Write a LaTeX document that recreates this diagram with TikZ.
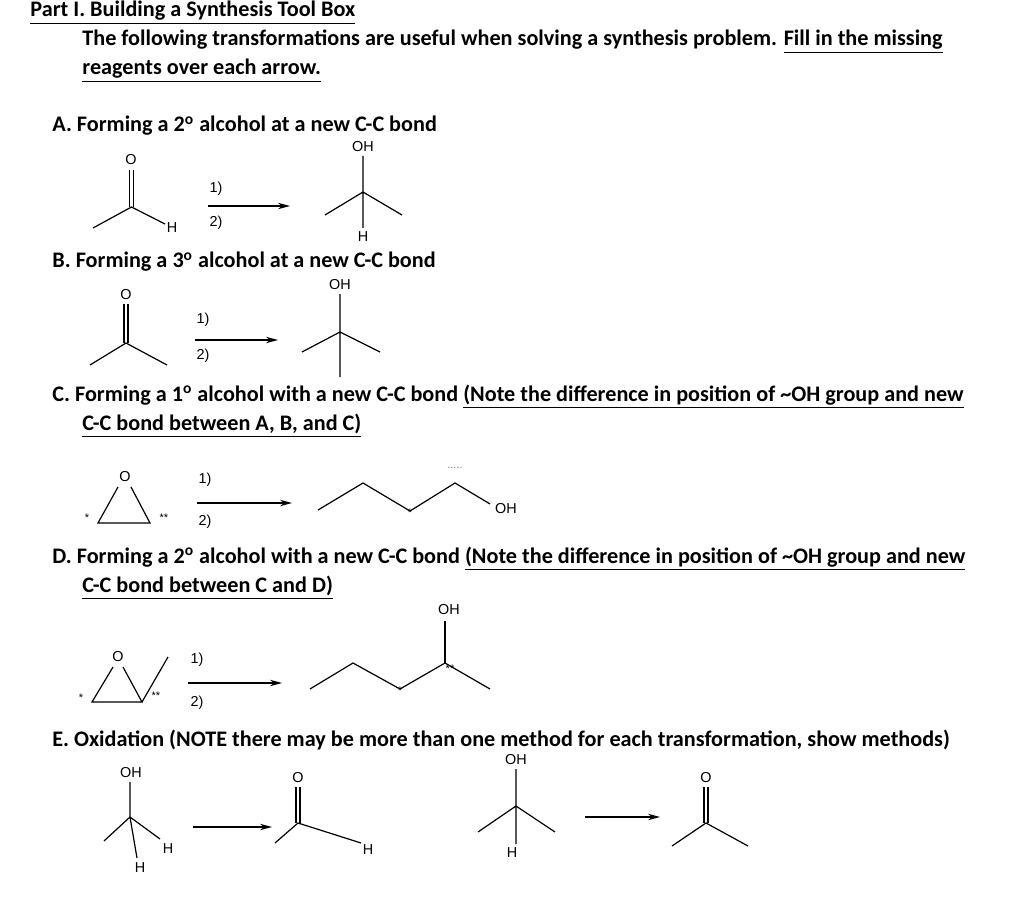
\documentclass[tikz,border=0pt]{standalone}
\usepackage{fontspec}
\setmainfont{Carlito}
\newfontfamily\chem{Liberation Sans}
\usetikzlibrary{arrows.meta}
\begin{document}
\begin{tikzpicture}[x=0.5pt,y=-0.5pt,
  head/.style={anchor=base west,inner sep=0pt,font=\fontsize{11.1}{12}\selectfont\bfseries},
  lab/.style={inner sep=0pt,font=\chem\fontsize{7.2}{8}\selectfont},
  tiny/.style={inner sep=0pt,font=\chem\fontsize{5.5}{5}\selectfont},
  bond/.style={line width=0.6pt},
  rxn/.style={line width=0.6pt,-{Stealth[length=6pt,width=3.2pt]}}]
\useasboundingbox (0,0) rectangle (1024,899);
% headings
\node[head] (t0) at (30,17) {\underline{Part I. Building a Synthesis Tool Box}};
\node[head] (t1) at (82,46) {The following transformations are useful when solving a synthesis problem. \underline{Fill in the missing}};
\node[head] (t2) at (82,75) {\underline{reagents over each arrow.}};
\node[head] (hA) at (52,132) {A. Forming a 2\textsuperscript{o} alcohol at a new C-C bond};
\node[head] (hB) at (52,268) {B. Forming a 3\textsuperscript{o} alcohol at a new C-C bond};
\node[head] (hC) at (52,401) {C. Forming a 1\textsuperscript{o} alcohol with a new C-C bond \underline{(Note the difference in position of \textasciitilde OH group and new}};
\node[head] (hC2) at (82,430) {\underline{C-C bond between A, B, and C)}};
\node[head] (hD) at (52,563) {D. Forming a 2\textsuperscript{o} alcohol with a new C-C bond \underline{(Note the difference in position of \textasciitilde OH group and new}};
\node[head] (hD2) at (82,592) {\underline{C-C bond between C and D)}};
\node[head] (hE) at (52,746) {E. Oxidation (NOTE there may be more than one method for each transformation, show methods)};
% ---- A
\node[lab] (aO) at (131,160) {O};
\draw[bond] (129.5,170) -- (129.5,207) (133.5,170) -- (133.5,207);
\draw[bond] (93,228) -- (131.5,207) -- (165,224);
\node[lab] (aH) at (172,228) {H};
\coordinate (aa1) at (208,206); \coordinate (aa2) at (290,206);
\draw[rxn] (aa1) -- (aa2);
\node[lab] (a1) at (216,189) {1)};
\node[lab] (a2) at (216,223) {2)};
\node[lab] (pOH) at (363,147) {OH};
\draw[bond] (363,156) -- (363,228) (325,215) -- (363,192) -- (402,215);
\node[lab] (pH) at (363,237) {H};
% ---- B
\node[lab] (bO) at (126,295) {O};
\draw[bond] (124,304) -- (124,343) (128,304) -- (128,343);
\draw[bond] (90,365) -- (126,343) -- (167,365);
\coordinate (ba1) at (195,340); \coordinate (ba2) at (278,340);
\draw[rxn] (ba1) -- (ba2);
\node[lab] (b1) at (203,320) {1)};
\node[lab] (b2) at (203,356) {2)};
\node[lab] (bOH) at (340,285) {OH};
\draw[bond] (340,294) -- (340,377) (302,352) -- (340,332) -- (380,352);
% ---- C
\node[lab] (cO) at (125,477) {O};
\draw[bond] (118,487) -- (98,523) -- (150,523) -- (131,487);
\node[tiny] at (87,518) {*};
\node[tiny] at (164,518) {**};
\coordinate (ca1) at (197,503); \coordinate (ca2) at (292,503);
\draw[rxn] (ca1) -- (ca2);
\node[lab] (c1) at (205,480) {1)};
\node[lab] (c2) at (205,522) {2)};
\draw[bond] (318,510) -- (363,483) -- (410,511) -- (455,483) -- (490,504);
\node[lab] (cOH) at (506,509) {OH};
\node[tiny] at (410,513) {*};
\node[tiny,gray] at (455,468) {.....};
% ---- D
\node[lab] (dO) at (118,657) {O};
\draw[bond] (113,667) -- (92,702) -- (142,702) -- (123,667);
\draw[bond] (142,702) -- (168,657);
\node[tiny] at (81,698) {*};
\node[tiny] at (156,696) {**};
\coordinate (da1) at (188,683); \coordinate (da2) at (282,683);
\draw[rxn] (da1) -- (da2);
\node[lab] (d1) at (197,660) {1)};
\node[lab] (d2) at (197,703) {2)};
\draw[bond] (310,689) -- (353,663) -- (400,689) -- (445,663) -- (490,689);
\draw[bond] (445,663) -- (445,621);
\node[lab] (dOH) at (449,610) {OH};
\node[tiny] at (400,691) {*};
\node[tiny] at (450,669) {**};
% ---- E
\node[lab] (e1OH) at (131,773) {OH};
\draw[bond] (130,782) -- (130,817) (104,841) -- (130,817) -- (160,839) (130,817) -- (137,858);
\node[lab] (e1H) at (168,849) {H};
\node[lab] (e1H2) at (140,868) {H};
\coordinate (ea1) at (193,827); \coordinate (ea2) at (272,827);
\draw[rxn] (ea1) -- (ea2);
\node[lab] (e2O) at (298,778) {O};
\draw[bond] (296,787) -- (296,823) (300,787) -- (300,823);
\draw[bond] (275,843) -- (298,823) -- (361,843);
\node[lab] (e2H) at (368,850) {H};
\node[lab] (e3OH) at (516,760) {OH};
\draw[bond] (516,769) -- (516,844) (478,832) -- (516,806) -- (555,832);
\node[lab] (e3H) at (512,853) {H};
\coordinate (eb1) at (585,817); \coordinate (eb2) at (660,817);
\draw[rxn] (eb1) -- (eb2);
\node[lab] (e4O) at (706,778) {O};
\draw[bond] (704,787) -- (704,823) (708,787) -- (708,823);
\draw[bond] (672,846) -- (706,823) -- (748,846);
\end{tikzpicture}
\end{document}
